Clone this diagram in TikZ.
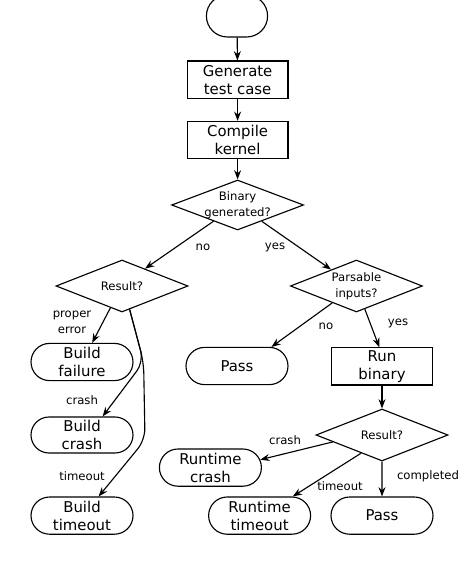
\documentclass[tikz,border=0pt]{standalone}
\usepackage{fontspec}
\setmainfont{DejaVu Sans}
\usepackage{tikz}
\usetikzlibrary{arrows.meta,shapes.geometric,shapes.misc}

\begin{document}
\begin{tikzpicture}[
  >=Stealth,
  x=1cm,
  y=1cm,
  line width=0.8pt,
  stepbox/.style={rectangle,draw=black,minimum width=2.52cm,minimum height=0.93cm,
    inner sep=0pt,align=center,font=\fontsize{10.6}{12.8}\selectfont},
  terminal/.style={rounded rectangle,draw=black,minimum width=2.55cm,minimum height=0.93cm,
    inner sep=0pt,align=center,font=\fontsize{10.6}{12.8}\selectfont},
  decision/.style={diamond,aspect=2.6,draw=black,minimum width=3.3cm,minimum height=1.3cm,
    inner sep=-3pt,align=center,font=\fontsize{8.3}{11.2}\selectfont},
  smalltxt/.style={font=\fontsize{8.3}{11.2}\selectfont,align=center,inner sep=1pt}
]
  \useasboundingbox (0,0) rectangle (11.85,-14.15);

  % main column
  \node[terminal,minimum width=1.53cm,minimum height=1.05cm] (start) at (5.925,-0.4) {};
  \node[stepbox] (gen) at (5.94,-1.99) {Generate\\test case};
  \node[stepbox] (comp) at (5.94,-3.5) {Compile\\kernel};
  \node[decision,minimum height=1.25cm] (bin) at (5.94,-5.125) {Binary\\generated?};
  \draw[->] (start) -- (gen);
  \draw[->] (gen) -- (comp);
  \draw[->] (comp) -- (bin);

  % build side
  \node[decision] (res1) at (3.05,-7.15) {Result?};
  \node[terminal] (bfail) at (2.05,-9.05) {Build\\failure};
  \node[terminal,minimum height=0.9cm] (bcrash) at (2.05,-10.875) {Build\\crash};
  \node[terminal] (btime) at (2.05,-12.89) {Build\\timeout};
  \coordinate (bend1) at (3.59,-9.05);
  \coordinate (bend2) at (3.625,-11.0);
  \draw[->] (bin.214) -- (res1.37);
  \node[smalltxt] (no1) at (5.075,-6.175) {no};
  \draw[->] (res1.-118) -- (bfail.62);
  \node[smalltxt] (perr) at (1.8,-8.05) {proper\\error};
  \draw[->,rounded corners=8pt] (res1.-72) -- (bend1) -- (bcrash.42);
  \node[smalltxt] (bcr) at (2.05,-10.0) {crash};
  \draw[->,rounded corners=8pt] (res1.-72) -- (bend1) -- (bend2) -- (btime.49);
  \node[smalltxt] (bto) at (2.05,-11.9) {timeout};

  % run side
  \node[decision] (pars) at (8.91,-7.15) {Parsable\\inputs?};
  \node[terminal] (pass1) at (5.925,-9.15) {Pass};
  \node[stepbox] (run) at (9.55,-9.16) {Run\\binary};
  \node[decision] (res2) at (9.55,-10.875) {Result?};
  \node[terminal] (rcrash) at (5.26,-11.69) {Runtime\\crash};
  \node[terminal] (rtime) at (6.49,-12.89) {Runtime\\timeout};
  \node[terminal] (pass2) at (9.55,-12.89) {Pass};
  \draw[->] (bin.-34) -- (pars.147);
  \node[smalltxt] (yes1) at (6.875,-6.175) {yes};
  \draw[->] (pars.-145) -- (pass1.29);
  \node[smalltxt] (no2) at (8.15,-8.15) {no};
  \draw[->] (pars.-70) -- (run.98);
  \node[smalltxt] (yes2) at (9.95,-8.075) {yes};
  \draw[->] (run) -- (res2);
  \draw[->] (res2.-172) -- (rcrash.9);
  \node[smalltxt] (rcr) at (7.125,-11.0) {crash};
  \draw[->] (res2.-139) -- (rtime.30);
  \node[smalltxt] (rto) at (8.5,-12.15) {timeout};
  \draw[->] (res2) -- (pass2);
  \node[smalltxt] (done) at (10.7,-11.9) {completed};
\end{tikzpicture}
\end{document}
